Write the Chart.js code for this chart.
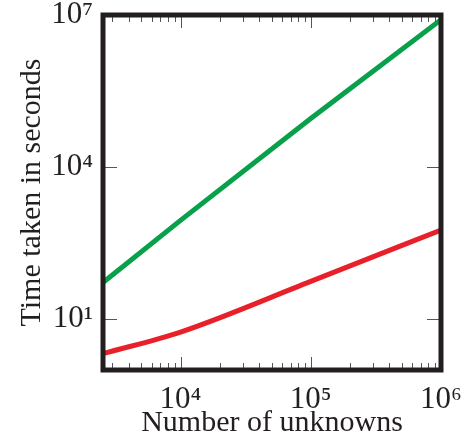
<!DOCTYPE html>
<html>
<head>
<meta charset="utf-8">
<script src="https://cdn.jsdelivr.net/npm/chart.js@4.4.1/dist/chart.umd.min.js"></script>
<style>
  html, body { margin: 0; padding: 0; background: #fff; }
  #wrap { width: 474px; height: 441px; }
</style>
</head>
<body>
<div id="wrap"><canvas id="timing"></canvas></div>
<script>
// sizes of the problem (number of unknowns)
const unknownsGreen = [2540, 10000, 100000, 1000000];
const timeGreen = [53, 890, 91000, 8100000];
const unknownsRed = [2540, 10000, 100000, 1000000];
const timeRed = [2.1, 5.6, 56, 575];

// axis ticks
const xMajor = [10000, 100000, 1000000];
const xMinor = [3000, 4000, 5000, 6000, 7000, 8000, 9000,
  20000, 30000, 40000, 50000, 60000, 70000, 80000, 90000,
  200000, 300000, 400000, 500000, 600000, 700000, 800000, 900000];
const yMajor = [10, 10000, 10000000];
const xLabels = { 10000: '10⁴', 100000: '10⁵', 1000000: '10⁶' };
const yLabels = { 10: '10¹', 10000: '10⁴', 10000000: '10⁷' };

const ink = '#231f20';
const serif = "'Liberation Serif', 'DejaVu Serif', serif";

function pts(xs, ys) {
  return xs.map((x, i) => ({ x: x, y: ys[i] }));
}

// inward ticks + heavy frame, like the pgfplots look
const frame = {
  id: 'frame',
  afterDatasetsDraw(chart) {
    const { ctx, chartArea: a, scales } = chart;
    const xs = scales.x, ys = scales.y;
    ctx.save();
    ctx.strokeStyle = '#555';
    ctx.lineWidth = 1;
    ctx.beginPath();
    xMinor.concat(xMajor).forEach(v => {
      const px = Math.round(xs.getPixelForValue(v)) + 0.5;
      const len = xMajor.includes(v) ? 13 : 7;
      ctx.moveTo(px, a.bottom); ctx.lineTo(px, a.bottom - len);
      ctx.moveTo(px, a.top); ctx.lineTo(px, a.top + len);
    });
    yMajor.forEach(v => {
      const py = Math.round(ys.getPixelForValue(v)) + 0.5;
      ctx.moveTo(a.left, py); ctx.lineTo(a.left + 14, py);
      ctx.moveTo(a.right, py); ctx.lineTo(a.right - 14, py);
    });
    ctx.stroke();
    ctx.strokeStyle = ink;
    ctx.lineWidth = 5;
    ctx.strokeRect(a.left, a.top, a.right - a.left, a.bottom - a.top);
    ctx.restore();
  }
};

const ctx = document.getElementById('timing').getContext('2d');
const chart = new Chart(ctx, {
  type: 'line',
  data: {
    datasets: [
      {
        data: pts(unknownsGreen, timeGreen),
        borderColor: '#08a04b',
        borderWidth: 5,
        pointRadius: 0,
        tension: 0,
      },
      {
        data: pts(unknownsRed, timeRed),
        borderColor: '#e8202a',
        borderWidth: 5,
        pointRadius: 0,
        cubicInterpolationMode: 'monotone',
      },
    ],
  },
  options: {
    responsive: true,
    maintainAspectRatio: false,
    animation: false,
    layout: { padding: { top: 15, right: 33, left: 0, bottom: 0 } },
    plugins: {
      legend: { display: false },
      tooltip: { enabled: false },
    },
    scales: {
      x: {
        type: 'logarithmic',
        min: 2540,
        max: 1000000,
        grid: { display: false, drawTicks: false },
        border: { display: false },
        afterBuildTicks: s => { s.ticks = xMajor.map(v => ({ value: v })); },
        afterFit: s => { s.height = 71; s.paddingLeft = 0; s.paddingRight = 0; },
        ticks: {
          autoSkip: false,
          maxRotation: 0,
          padding: 11,
          color: ink,
          font: { family: serif, size: 31 },
          callback: v => xLabels[v] || '',
        },
        title: {
          display: true,
          text: 'Number of unknowns',
          color: ink,
          font: { family: serif, size: 30 },
          padding: { top: 0, bottom: 0 },
        },
      },
      y: {
        type: 'logarithmic',
        min: 1,
        max: 10000000,
        grid: { display: false, drawTicks: false },
        border: { display: false },
        afterBuildTicks: s => { s.ticks = yMajor.map(v => ({ value: v })); },
        afterFit: s => { s.width = 103; s.paddingTop = 0; s.paddingBottom = 0; },
        ticks: {
          autoSkip: false,
          padding: 10,
          color: ink,
          font: { family: serif, size: 31 },
          callback: v => yLabels[v] || '',
        },
        title: {
          display: true,
          text: 'Time taken in seconds',
          color: ink,
          font: { family: serif, size: 30 },
          padding: { top: 14, bottom: 0 },
        },
      },
    },
  },
  plugins: [frame],
});
</script>
</body>
</html>
